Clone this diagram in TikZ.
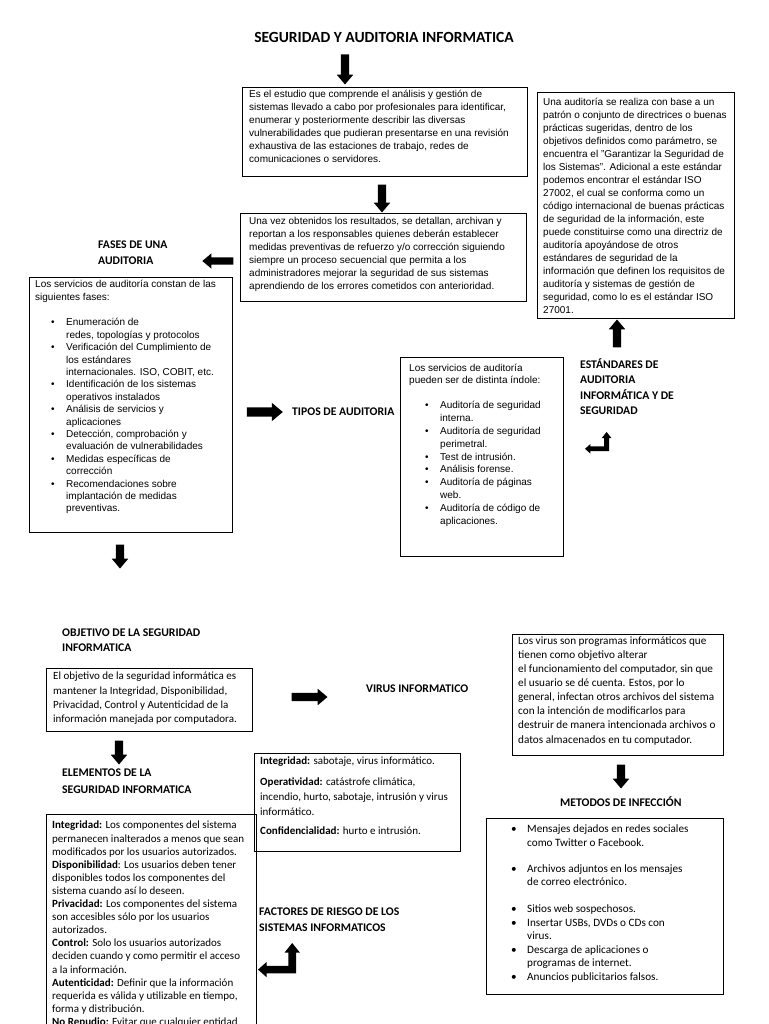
\documentclass[tikz,border=0pt]{standalone}
\usepackage{fontspec}
\setmainfont{Liberation Sans}
\newfontfamily\calibri{Carlito}
\usetikzlibrary{shapes.arrows}
\tikzset{
caja/.style={draw, line width=0.9pt, anchor=north west, inner sep=0pt},
texto/.style={anchor=north west, inner sep=0pt, align=left,
    font=\fontsize{10}{13}\selectfont},
textocal/.style={anchor=north west, inner sep=0pt, align=left,
    font=\calibri\fontsize{11}{14.3}\selectfont},
titulo/.style={anchor=north west, inner sep=0pt, align=left,
    font=\calibri\bfseries\fontsize{11.7}{16}\selectfont},
flecha/.style={single arrow, fill=black, inner sep=4pt,
    single arrow head extend=4pt, single arrow tip angle=80,
    minimum height=#1}
}
\newcommand{\punto}{\hspace*{16pt}\makebox[15pt][l]{\textbullet}}
\newcommand{\sigue}{\hspace*{31pt}}
\newcommand{\puntob}{\makebox[16pt][l]{\textbullet}}
\newcommand{\sigueb}{\hspace*{16pt}}
\newcommand{\flechacodo}[3]{\fill[shift={(#1,#2)}, scale=#3] (36,0) -- (44,10)
  -- (40,10) -- (40,32) -- (9,32) -- (9,36) -- (0,28) -- (9,20) -- (9,24)
  -- (32,24) -- (32,10) -- (28,10) -- cycle;}

\begin{document}
\begin{tikzpicture}[x=1pt, y=-1pt]
\useasboundingbox[fill=white] (0,0) rectangle (768,1024);

\node[titulo, anchor=center, font=\calibri\bfseries\fontsize{15.5}{18}\selectfont]
  (tit) at (384,37) {SEGURIDAD Y AUDITORIA INFORMATICA};
\node[flecha=30, rotate=270] (f1) at (345,67) {};

\node[caja, minimum width=285, minimum height=89] (def) at (242,87) {};
\node[texto] (tdef) at (249,90) {Es el estudio que comprende el análisis y gestión de\\
sistemas llevado a cabo por profesionales para identificar,\\
enumerar y posteriormente describir las diversas\\
vulnerabilidades que pudieran presentarse en una revisión\\
exhaustiva de las estaciones de trabajo, redes de\\
comunicaciones o servidores.};
\node[flecha=28, rotate=270] (f2) at (382,196) {};

\node[caja, minimum width=286, minimum height=88] (res) at (240,213) {};
\node[texto] (tres) at (249,217) {Una vez obtenidos los resultados, se detallan, archivan y\\
reportan a los responsables quienes deberán establecer\\
medidas preventivas de refuerzo y/o corrección siguiendo\\
siempre un proceso secuencial que permita a los\\
administradores mejorar la seguridad de sus sistemas\\
aprendiendo de los errores cometidos con anterioridad.};

\node[caja, minimum width=197, minimum height=226] (iso) at (537,92) {};
\node[texto] (tiso) at (543,98) {Una auditoría se realiza con base a un\\
patrón o conjunto de directrices o buenas\\
prácticas sugeridas, dentro de los\\
objetivos definidos como parámetro, se\\
encuentra el "Garantizar la Seguridad de\\
los Sistemas". Adicional a este estándar\\
podemos encontrar el estándar ISO\\
27002, el cual se conforma como un\\
código internacional de buenas prácticas\\
de seguridad de la información, este\\
puede constituirse como una directriz de\\
auditoría apoyándose de otros\\
estándares de seguridad de la\\
información que definen los requisitos de\\
auditoría y sistemas de gestión de\\
seguridad, como lo es el estándar ISO\\
27001.};
\node[flecha=28, rotate=90] (f3) at (617,336) {};
\node[titulo, font=\calibri\bfseries\fontsize{11.7}{15.5}\selectfont]
  (hiso) at (580,358) {ESTÁNDARES DE\\ AUDITORIA\\ INFORMÁTICA Y DE\\ SEGURIDAD};
\flechacodo{585}{432}{0.6}

\node[titulo] (hfas) at (98,241) {FASES DE UNA\\ AUDITORIA};
\node[flecha=31, rotate=180, inner sep=3.5pt] (f4) at (220,261) {};
\node[caja, minimum width=203, minimum height=255] (fas) at (29,277) {};
\node[texto, font=\fontsize{10}{12.4}\selectfont] (tfas) at (35,280)
{Los servicios de auditoría constan de las\\[0.6pt]
siguientes fases:\\[13pt]
\punto Enumeración de\\
\sigue redes, topologías y protocolos\\
\punto Verificación del Cumplimiento de\\
\sigue los estándares\\
\sigue internacionales. ISO, COBIT, etc.\\
\punto Identificación de los sistemas\\
\sigue operativos instalados\\
\punto Análisis de servicios y\\
\sigue aplicaciones\\
\punto Detección, comprobación y\\
\sigue evaluación de vulnerabilidades\\
\punto Medidas específicas de\\
\sigue corrección\\
\punto Recomendaciones sobre\\
\sigue implantación de medidas\\
\sigue preventivas.};

\node[flecha=36, inner sep=4.5pt, single arrow head extend=4.5pt] (f5) at (262,412) {};
\node[titulo, anchor=west] (htip) at (292,412) {TIPOS DE AUDITORIA};
\node[caja, minimum width=163, minimum height=199] (tip) at (400,357) {};
\node[texto, font=\fontsize{10}{12.9}\selectfont] (ttip) at (409,364)
{Los servicios de auditoría\\[-0.9pt]
pueden ser de distinta índole:\\[12pt]
\punto Auditoría de seguridad\\
\sigue interna.\\
\punto Auditoría de seguridad\\
\sigue perimetral.\\
\punto Test de intrusión.\\
\punto Análisis forense.\\
\punto Auditoría de páginas\\
\sigue web.\\
\punto Auditoría de código de\\
\sigue aplicaciones.};

\node[flecha=24, rotate=270] (f6) at (120,554) {};

\node[titulo, font=\calibri\bfseries\fontsize{11.7}{15}\selectfont]
  (hobj) at (62,629) {OBJETIVO DE LA SEGURIDAD\\ INFORMATICA};
\node[caja, minimum width=206, minimum height=63] (obj) at (46,668) {};
\node[textocal] (tobj) at (53,672) {El objetivo de la seguridad informática es\\
mantener la Integridad, Disponibilidad,\\
Privacidad, Control y Autenticidad de la\\
información manejada por computadora.};
\node[flecha=24, rotate=270] (f7) at (119,750) {};
\node[titulo, font=\calibri\bfseries\fontsize{11.7}{16.5}\selectfont]
  (hele) at (62,769) {ELEMENTOS DE LA\\ SEGURIDAD INFORMATICA};
\node[caja, minimum width=210, minimum height=230] (ele) at (46,814) {};
\node[textocal, font=\calibri\fontsize{11}{13.1}\selectfont] (tele) at (52,821)
{\textbf{Integridad:} Los componentes del sistema\\
permanecen inalterados a menos que sean\\
modificados por los usuarios autorizados.\\
\textbf{Disponibilidad}: Los usuarios deben tener\\
disponibles todos los componentes del\\
sistema cuando así lo deseen.\\
\textbf{Privacidad:} Los componentes del sistema\\
son accesibles sólo por los usuarios\\
autorizados.\\
\textbf{Control:} Solo los usuarios autorizados\\
deciden cuando y como permitir el acceso\\
a la información.\\
\textbf{Autenticidad:} Definir que la información\\
requerida es válida y utilizable en tiempo,\\
forma y distribución.\\
\textbf{No Repudio:} Evitar que cualquier entidad};

\node[flecha=36] (f8) at (307,697) {};
\node[titulo, anchor=west] (hvir) at (366,689) {VIRUS INFORMATICO};
\node[caja, minimum width=206, minimum height=98] (fac) at (254,753) {};
\node[textocal, font=\calibri\fontsize{11}{15}\selectfont] (tfac) at (260,757)
{\textbf{Integridad:} sabotaje, virus informático.\\[6pt]
\textbf{Operatividad:} catástrofe climática,\\
incendio, hurto, sabotaje, intrusión y virus\\
informático.\\[4pt]
\textbf{Confidencialidad:} hurto e intrusión.};
\node[titulo] (hfac) at (259,908) {FACTORES DE RIESGO DE LOS\\ SISTEMAS INFORMATICOS};
\flechacodo{258}{943}{0.95}

\node[caja, minimum width=211, minimum height=121] (vir) at (512,634) {};
\node[textocal, font=\calibri\fontsize{11.2}{13.9}\selectfont] (tvir) at (518,637)
{Los virus son programas informáticos que\\
tienen como objetivo alterar\\
el funcionamiento del computador, sin que\\
el usuario se dé cuenta. Estos, por lo\\
general, infectan otros archivos del sistema\\
con la intención de modificarlos para\\
destruir de manera intencionada archivos o\\[1pt]
datos almacenados en tu computador.};
\node[flecha=24, rotate=270] (f9) at (621,774) {};
\node[titulo, anchor=west] (hmet) at (560,802) {METODOS DE INFECCIÓN};
\node[caja, minimum width=237, minimum height=176] (met) at (486,818) {};
\node[textocal, font=\calibri\fontsize{11.2}{13.5}\selectfont] (tmet) at (511,825)
{\puntob Mensajes dejados en redes sociales\\
\sigueb como Twitter o Facebook.\\[12.5pt]
\puntob Archivos adjuntos en los mensajes\\
\sigueb de correo electrónico.\\[13.5pt]
\puntob Sitios web sospechosos.\\
\puntob Insertar USBs, DVDs o CDs con\\
\sigueb virus.\\
\puntob Descarga de aplicaciones o\\
\sigueb programas de internet.\\
\puntob Anuncios publicitarios falsos.};
\end{tikzpicture}
\end{document}
